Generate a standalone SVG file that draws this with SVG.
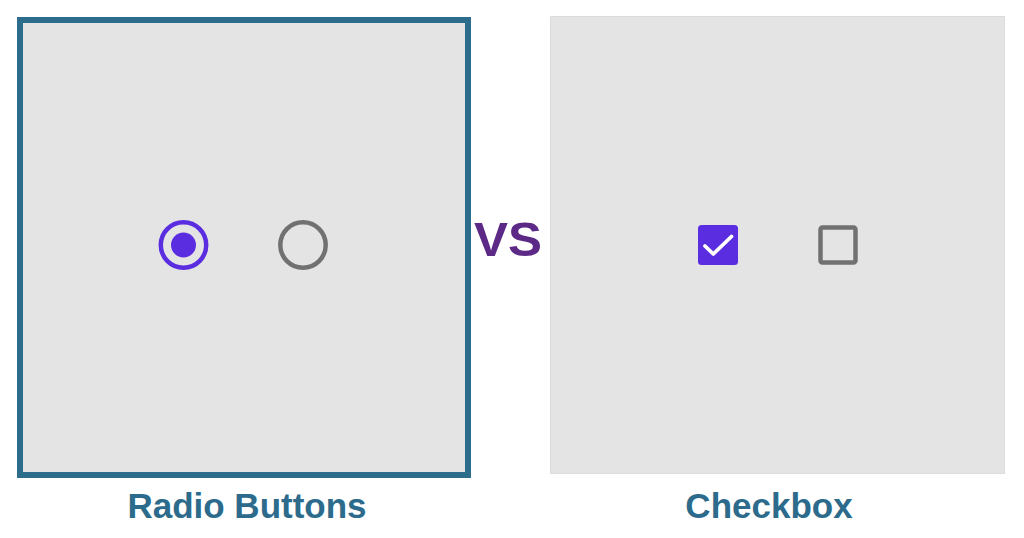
<svg xmlns="http://www.w3.org/2000/svg" width="1024" height="538" viewBox="0 0 1024 538">
  <style>
    .panel { fill: #e4e4e4; }
    .label { font-family: "Liberation Sans", Arial, sans-serif; font-weight: bold; font-size: 35px; fill: #2c6b8b; text-anchor: middle; }
    .vs { font-family: "Liberation Sans", Arial, sans-serif; font-weight: bold; font-size: 48px; fill: #5c2a86; }
    .off { fill: none; stroke: #717171; stroke-width: 4.5; }
    .on { fill: none; stroke: #5a2ee0; stroke-width: 4.5; }
  </style>
  <rect width="1024" height="538" fill="#ffffff"/>
  <g id="radio-panel">
    <rect class="panel" x="20" y="20" width="448" height="455" stroke="#2d6d8c" stroke-width="6"/>
    <g id="radio-selected">
      <circle class="on" cx="183.5" cy="245" r="22.7"/>
      <circle cx="183.5" cy="245" r="12.5" fill="#5a2ee0"/>
    </g>
    <g id="radio-unselected">
      <circle class="off" cx="303" cy="245" r="22.7"/>
    </g>
    <text class="label" x="247" y="518">Radio Buttons</text>
  </g>
  <g id="vs">
    <text class="vs" x="474" y="256" textLength="68" lengthAdjust="spacingAndGlyphs">VS</text>
  </g>
  <g id="checkbox-panel">
    <rect class="panel" x="550.5" y="16.5" width="454" height="457" stroke="#dcdcdc" stroke-width="1"/>
    <g id="checkbox-checked">
      <rect x="698" y="225" width="40" height="40" rx="3.5" fill="#5a2ee0"/>
      <polyline points="705,246 713.3,254 731.5,236.5" fill="none" stroke="#ffffff" stroke-width="3.8" stroke-linecap="round" stroke-linejoin="round"/>
    </g>
    <g id="checkbox-unchecked">
      <rect class="off" x="820.5" y="227.5" width="35" height="35" rx="2" stroke="#777777" stroke-width="5"/>
    </g>
    <text class="label" x="769" y="518">Checkbox</text>
  </g>
</svg>
